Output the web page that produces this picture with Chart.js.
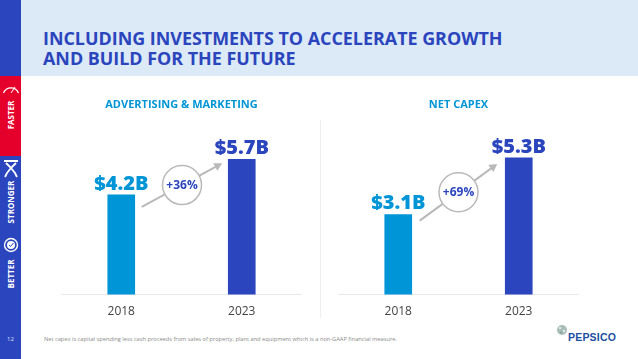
<!DOCTYPE html>
<html>
<head>
<meta charset="utf-8">
<script src="https://cdn.jsdelivr.net/npm/chart.js@4"></script>
<style>
  body { margin: 0; width: 638px; height: 359px; background: #fff; overflow: hidden; position: relative; font-family: "Open Sans", sans-serif; }
  div, canvas, svg { position: absolute; }
  #side { left: 0; top: 0; width: 21px; height: 359px; background: #2a45bd; }
  #red { left: 0; top: 76px; width: 21px; height: 80px; background: #e4002b; }
  #head { left: 21px; top: 0; width: 617px; height: 76px; background: #dce9f6; }
  #headline { left: 43px; top: 28px; color: #2a45bd; font-weight: 700; font-size: 17.9px; line-height: 20px; white-space: nowrap; }
  .rot { width: 60px; left: -19px; text-align: center; color: #fff; font-weight: 700; font-size: 8px; line-height: 10px; transform: rotate(-90deg); }
  #divider { left: 320px; top: 120px; width: 1px; height: 198px; background: #eeeeee; }
  #note { left: 44px; top: 335px; font-size: 5.7px; line-height: 9px; color: #8a8a8a; white-space: nowrap; }
  #page { left: 0; width: 21px; top: 335px; text-align: center; font-size: 6px; line-height: 9px; color: #dfe4f7; }
  #logo { left: 568px; top: 330px; font-family: "Liberation Sans", sans-serif; font-weight: 700; font-size: 10.5px; line-height: 14px; color: #1c4f9f; letter-spacing: 0.2px; }
</style>
</head>
<body>
<div id="side"></div>
<div id="red"></div>
<div id="head"></div>
<div id="headline">INCLUDING INVESTMENTS TO ACCELERATE GROWTH<br>AND BUILD FOR THE FUTURE</div>

<svg style="left:0;top:0" width="21" height="359" fill="none" stroke="#fff">
  <path d="M3.5 93 A8 8 0 0 1 18.5 93" stroke-width="1.3"/>
  <path d="M11 93 L15 87" stroke-width="1"/>
  <path d="M4 161 L18 161 M6 163 L11 168 L16 163 M11 168 L7 173 L5 177 M11 168 L15 173 L17 177" stroke-width="1.8"/>
  <circle cx="11" cy="245" r="6.5" stroke-width="1.4"/>
  <circle cx="11" cy="245" r="4" fill="#fff" stroke="none"/>
  <path d="M9 245 L10.5 246.5 L13.5 243" stroke="#2a45bd" stroke-width="1"/>
</svg>
<div class="rot" style="top:110px">FASTER</div>
<div class="rot" style="top:197px">STRONGER</div>
<div class="rot" style="top:269px">BETTER</div>

<canvas id="adChart" style="left:61px;top:95px"></canvas>
<canvas id="capexChart" style="left:338px;top:95px"></canvas>
<div id="divider"></div>

<div id="page">12</div>
<div id="note">Net capex is capital spending less cash proceeds from sales of property, plant and equipment which is a non-GAAP financial measure.</div>
<svg style="left:555px;top:323px" width="14" height="14">
  <circle cx="7" cy="7" r="5" fill="#a9bdb8"/>
  <circle cx="5" cy="5" r="1.2" fill="#dfe8e4"/>
  <circle cx="9" cy="8" r="1.2" fill="#dfe8e4"/>
  <circle cx="6" cy="9.5" r="1" fill="#7d9a98"/>
</svg>
<div id="logo">PEPSICO</div>

<script>
const years = ['2018', '2023'];
const adValues = [4.2, 5.7];
const capexValues = [3.1, 5.3];
const adLabels = ['$4.2B', '$5.7B'];
const capexLabels = ['$3.1B', '$5.3B'];
const barColors = ['#0095d6', '#2a45bd'];

// value labels, arrow and growth circle, all placed off the bars
const calloutPlugin = {
    id: 'callout',
    afterDatasetsDraw(chart, args, opts) {
        const ctx = chart.ctx;
        const bars = chart.getDatasetMeta(0).data;

        ctx.save();
        ctx.textAlign = 'center';
        ctx.textBaseline = 'middle';
        bars.forEach((bar, i) => {
            ctx.font = '800 20px "Open Sans"';
            ctx.fillStyle = barColors[i];
            ctx.fillText(opts.labels[i], bar.x, bar.y - 11);
        });

        const x1 = bars[0].x + 13.5 + opts.gap[0];
        const y1 = bars[0].y + opts.drop[0];
        const x2 = bars[1].x - 13.5 - opts.gap[1];
        const y2 = bars[1].y + opts.drop[1];
        const angle = Math.atan2(y2 - y1, x2 - x1);

        ctx.strokeStyle = '#b9b9b9';
        ctx.fillStyle = '#b9b9b9';
        ctx.lineWidth = 2;
        ctx.beginPath();
        ctx.moveTo(x1, y1);
        ctx.lineTo(x2 - 5 * Math.cos(angle), y2 - 5 * Math.sin(angle));
        ctx.stroke();
        ctx.beginPath();
        ctx.moveTo(x2, y2);
        ctx.lineTo(x2 - 9 * Math.cos(angle - 0.5), y2 - 9 * Math.sin(angle - 0.5));
        ctx.lineTo(x2 - 9 * Math.cos(angle + 0.5), y2 - 9 * Math.sin(angle + 0.5));
        ctx.closePath();
        ctx.fill();

        const cx = (x1 + x2) / 2;
        const cy = (y1 + y2) / 2;
        ctx.beginPath();
        ctx.arc(cx, cy, 19.5, 0, Math.PI * 2);
        ctx.fillStyle = '#fff';
        ctx.fill();
        ctx.lineWidth = 1.5;
        ctx.stroke();

        ctx.font = '700 12px "Open Sans"';
        ctx.fillStyle = '#2a45bd';
        ctx.fillText(opts.growth, cx, cy + 0.5);
        ctx.restore();
    }
};

function drawBarChart(id, title, values, labels, growth, yMax, gap, drop) {
    const canvas = document.getElementById(id);
    canvas.width = 241;
    canvas.height = 226;

    new Chart(canvas.getContext('2d'), {
        type: 'bar',
        data: {
            labels: years,
            datasets: [{
                data: values,
                backgroundColor: barColors,
                barThickness: 27
            }]
        },
        options: {
            responsive: false,
            animation: false,
            layout: { padding: 0 },
            plugins: {
                legend: { display: false },
                tooltip: { enabled: false },
                title: {
                    display: true,
                    text: title,
                    color: '#0095d6',
                    font: { family: '"Open Sans"', size: 11, weight: '700' },
                    padding: { top: 3, bottom: 7 }
                },
                callout: { labels, growth, gap, drop }
            },
            scales: {
                x: {
                    grid: { display: false },
                    border: { color: '#e9e9e9' },
                    ticks: {
                        color: '#444444',
                        font: { family: '"Open Sans"', size: 12 },
                        padding: 2
                    }
                },
                y: { display: false, min: 0, max: yMax }
            }
        },
        plugins: [calloutPlugin]
    });
}

drawBarChart('adChart', 'ADVERTISING & MARKETING', adValues, adLabels, '+36%', 7.43, [7, 6], [12, 4]);
drawBarChart('capexChart', 'NET CAPEX', capexValues, capexLabels, '+69%', 6.84, [8, 8], [6, 6]);
</script>
</body>
</html>
